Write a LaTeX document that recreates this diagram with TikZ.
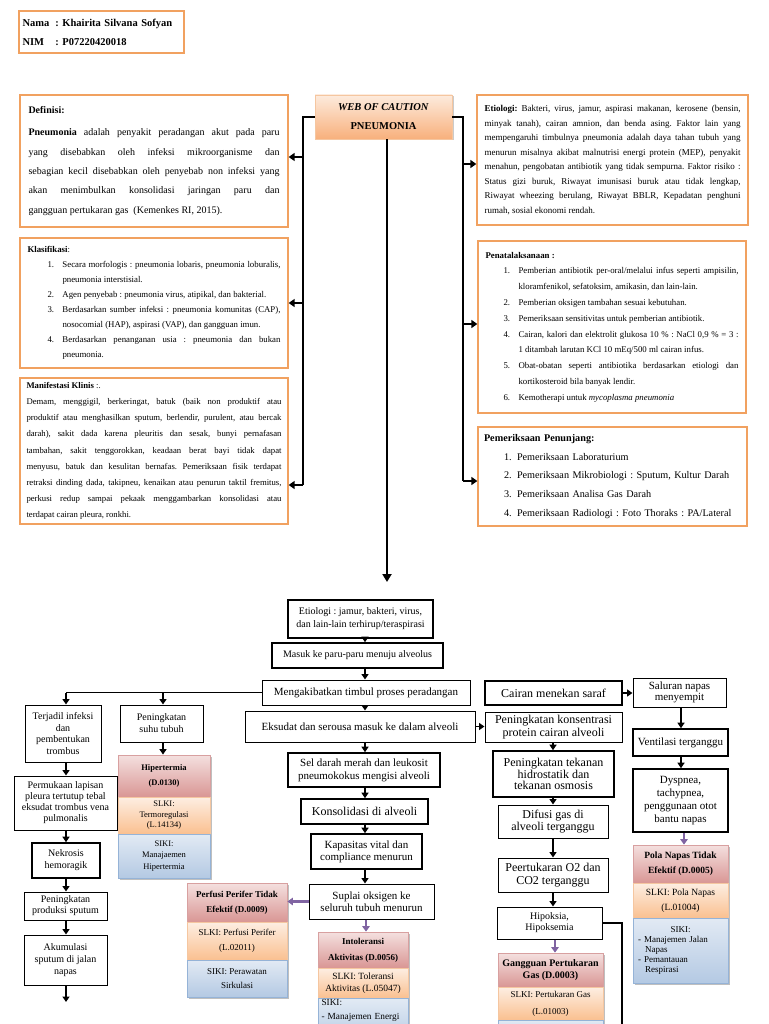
\documentclass[tikz,border=0pt]{standalone}
\usepackage{fontspec}
\setmainfont{Liberation Serif}
\usetikzlibrary{arrows.meta,shadows}
\definecolor{obord}{HTML}{F1A160}
\definecolor{purp}{HTML}{8064A2}
\definecolor{rtop}{HTML}{F4E0DF}
\definecolor{rbot}{HTML}{D99694}
\definecolor{rbd}{HTML}{D8A0A0}
\definecolor{otop}{HTML}{FDEEE2}
\definecolor{obot}{HTML}{FAC090}
\definecolor{obd}{HTML}{F5C6A0}
\definecolor{btop}{HTML}{E2EAF4}
\definecolor{bbot}{HTML}{B4C9E3}
\definecolor{bbd}{HTML}{95B3D7}
\definecolor{wtop}{HTML}{FDEBDD}
\definecolor{wbot}{HTML}{F8B07C}
\newcommand\F[2]{\fontsize{#1}{#2}\selectfont\frenchspacing}
\newcommand\boxat[6][]{\node[#1, minimum width={(#4)-(#2)}, minimum height={(#5)-(#3)}] (#6) at ({((#2)+(#4))/2},{((#3)+(#5))/2})}
\newcommand\li[3]{\par\noindent\hangindent=#2\hangafter=1\makebox[#2][l]{\hspace*{#1}#3}\ignorespaces}
\tikzset{
 topbox/.style={draw=obord, line width=1.3pt, fill=white, inner xsep=1pt, inner ysep=1pt, align=justify},
 fc/.style={draw=black, line width=1pt, fill=white, align=center, inner sep=1pt},
 thk/.style={line width=1.6pt},
 fa/.style={font=\F{10}{12}},
 fb/.style={font=\F{11}{12.5}},
 fcc/.style={font=\F{12}{13}},
 conn/.style={line width=2.4pt},
 tarr/.style={line width=2.2pt, -{Triangle[width=8pt,length=6pt]}},
 arr/.style={line width=1.8pt, -{Triangle[width=7pt,length=5.5pt]}},
 lin/.style={line width=1.8pt},
 parr/.style={line width=2.2pt, draw=purp, -{Triangle[width=7.5pt,length=5.5pt]}},
 shad/.style={drop shadow={shadow xshift=1.5pt,shadow yshift=-1.5pt,fill=black!45,opacity=.55}},
 rsec/.style={shad, draw=rbd, line width=0.8pt, top color=rtop, bottom color=rbot, align=center, inner sep=1pt, font=\bfseries\F{9.5}{15}},
 osec/.style={shad, draw=obd, line width=0.8pt, top color=otop, bottom color=obot, align=center, inner sep=1pt, font=\F{9.5}{15}},
 bsec/.style={shad, draw=bbd, line width=0.8pt, top color=btop, bottom color=bbot, align=center, inner sep=1pt, font=\F{9.5}{14}},
 wocbox/.style={draw=obd, line width=0.8pt, top color=wtop, bottom color=wbot, align=center, inner sep=1pt, font=\bfseries\F{10.5}{19}, drop shadow={shadow xshift=1.5pt,shadow yshift=-1.5pt,fill=black!40,opacity=.5}}
}
\begin{document}
\frenchspacing
\begin{tikzpicture}[x=1pt,y=-1pt]
\fill[white] (0,0) rectangle (768,1024);
\clip (0,0) rectangle (768,1024);
% ---------- header ----------
\boxat[topbox, align=left, text width=158pt, font=\bfseries\F{10.5}{19}]{19}{11}{184}{53}{hdr}{\makebox[33pt][l]{Nama}: Khairita Silvana Sofyan\\\makebox[33pt][l]{NIM}: P07220420018};
% ---------- left column ----------
\boxat[topbox, text width=251pt, font=\F{10}{19.4}]{20}{95}{288}{227}{def}{\textbf{Definisi:}\par\vspace{2.6pt}\textbf{Pneumonia} adalah penyakit peradangan akut pada paru\linebreak yang disebabkan oleh infeksi mikroorganisme dan\linebreak sebagian kecil disebabkan oleh penyebab non infeksi yang\linebreak akan menimbulkan konsolidasi jaringan paru dan\linebreak gangguan pertukaran gas\ \ (Kemenkes RI, 2015).\par};
\boxat[topbox, text width=253pt, font=\F{8.8}{15}]{20}{238}{288}{368}{klas}{\textbf{Klasifikasi}:
\li{20pt}{35pt}{1.}Secara morfologis : pneumonia lobaris, pneumonia loburalis,\linebreak pneumonia interstisial.
\li{20pt}{35pt}{2.}Agen penyebab : pneumonia virus, atipikal, dan bakterial.
\li{20pt}{35pt}{3.}Berdasarkan sumber infeksi : pneumonia komunitas (CAP),\linebreak nosocomial (HAP), aspirasi (VAP), dan gangguan imun.
\li{20pt}{35pt}{4.}Berdasarkan penanganan usia : pneumonia dan bukan\linebreak pneumonia.\par};
\boxat[topbox, text width=255pt, font=\F{8.7}{16.2}]{20}{378}{288}{524}{man}{\textbf{Manifestasi Klinis} :.\par Demam, menggigil, berkeringat, batuk (baik non produktif atau\linebreak produktif atau menghasilkan sputum, berlendir, purulent, atau bercak\linebreak darah), sakit dada karena pleuritis dan sesak, bunyi pernafasan\linebreak tambahan, sakit tenggorokkan, keadaan berat bayi tidak dapat\linebreak menyusu, batuk dan kesulitan bernafas. Pemeriksaan fisik terdapat\linebreak retraksi dinding dada, takipneu, kenaikan atau penurun taktil fremitus,\linebreak perkusi redup sampai pekaak menggambarkan konsolidasi atau\linebreak terdapat cairan pleura, ronkhi.\par};
% ---------- center ----------
\boxat[wocbox]{315}{95}{452}{139}{woc}{\textit{WEB OF CAUTION}\\PNEUMONIA};
% ---------- right column ----------
\boxat[topbox, text width=256pt, font=\F{9}{14.5}]{477}{95}{748}{225}{etiol}{\textbf{Etiologi:} Bakteri, virus, jamur, aspirasi makanan, kerosene (bensin,\linebreak minyak tanah), cairan amnion, dan benda asing. Faktor lain yang\linebreak mempengaruhi timbulnya pneumonia adalah daya tahan tubuh yang\linebreak menurun misalnya akibat malnutrisi energi protein (MEP), penyakit\linebreak menahun, pengobatan antibiotik yang tidak sempurna. Faktor risiko :\linebreak Status gizi buruk, Riwayat imunisasi buruk atau tidak lengkap,\linebreak Riwayat wheezing berulang, Riwayat BBLR, Kepadatan penghuni\linebreak rumah, sosial ekonomi rendah.\par};
\boxat[topbox, text width=253pt, font=\F{8.8}{15.8}]{478}{241}{746}{413}{pen}{\textbf{Penatalaksanaan :}
\li{18pt}{33pt}{1.}Pemberian antibiotik per-oral/melalui infus seperti ampisilin,\linebreak kloramfenikol, sefatoksim, amikasin, dan lain-lain.
\li{18pt}{33pt}{2.}Pemberian oksigen tambahan sesuai kebutuhan.
\li{18pt}{33pt}{3.}Pemeriksaan sensitivitas untuk pemberian antibiotik.
\li{18pt}{33pt}{4.}Cairan, kalori dan elektrolit glukosa 10 \% : NaCl 0,9 \% = 3 :\linebreak 1 ditambah larutan KCl 10 mEq/500 ml cairan infus.
\li{18pt}{33pt}{5.}Obat-obatan seperti antibiotika berdasarkan etiologi dan\linebreak kortikosteroid bila banyak lendir.
\li{18pt}{33pt}{6.}Kemotherapi untuk \textit{mycoplasma pneumonia}\par};
\boxat[topbox, align=left, text width=257pt, font=\F{10.2}{18.7}]{478}{427}{747}{526}{pem}{\textbf{Pemeriksaan Penunjang:}
\li{20pt}{33pt}{1.}Pemeriksaan Laboraturium
\li{20pt}{33pt}{2.}Pemeriksaan Mikrobiologi : Sputum, Kultur Darah
\li{20pt}{33pt}{3.}Pemeriksaan Analisa Gas Darah
\li{20pt}{33pt}{4.}Pemeriksaan Radiologi : Foto Thoraks : PA/Lateral\par};
% ---------- top connectors ----------
\coordinate (l1) at (303,157);
\coordinate (l2) at (303,303);
\coordinate (l3) at (303,485);
\coordinate (r1) at (463,164);
\coordinate (r2) at (463,324);
\coordinate (r3) at (463,481);
\coordinate (cend) at (387,582);
\draw[conn] (woc.west) -| (l3);
\draw[conn] (woc.east) -| (r3);
\draw[tarr] (l1) -- (l1 -| def.east);
\draw[tarr] (l2) -- (l2 -| klas.east);
\draw[tarr] (l3) -- (l3 -| man.east);
\draw[tarr] (r1) -- (r1 -| etiol.west);
\draw[tarr] (r2) -- (r2 -| pen.west);
\draw[tarr] (r3) -- (r3 -| pem.west);
\draw[line width=2.8pt, -{Triangle[width=9pt,length=8pt]}] (woc.south -| cend) -- (cend);
% ---------- flowchart center ----------
\boxat[fc,thk,fa,font=\F{10}{13}]{288}{600}{433}{638}{etio2}{Etiologi : jamur, bakteri, virus,\\dan lain-lain terhirup/teraspirasi};
\boxat[fc,thk,fa]{272}{643}{443}{668}{masuk}{Masuk ke paru-paru menuju alveolus};
\boxat[fc,fb]{262}{680}{470}{705}{meng}{Mengakibatkan timbul proses peradangan};
\boxat[fc,fb]{245}{711}{475}{742}{eks}{Eksudat dan serousa masuk ke dalam alveoli};
\boxat[fc,thk,fb,font=\F{11}{13}]{288}{753}{440}{787}{sel}{Sel darah merah dan leukosit\\pneumokokus mengisi alveoli};
\boxat[fc,thk,fcc]{301}{799}{428}{824}{kons}{Konsolidasi di alveoli};
\boxat[fc,thk,fb,font=\F{11}{12}]{311}{834}{422}{869}{kap}{Kapasitas vital dan\\compliance menurun};
\boxat[fc,fb,font=\F{11}{12}]{309}{884}{434}{919}{sup}{Suplai oksigen ke\\seluruh tubuh menurun};
% ---------- flowchart left ----------
\boxat[fc,fa,font=\F{10}{11.7}]{25}{705}{101}{762}{terj}{Terjadil infeksi\\dan\\pembentukan\\trombus};
\boxat[fc,fa]{120}{705}{203}{742}{suhu}{Peningkatan\\suhu tubuh};
\boxat[fc,fa,font=\F{10}{11}]{14}{776}{117}{830}{perm}{Permukaan lapisan\\pleura tertutup tebal\\eksudat trombus vena\\pulmonalis};
\boxat[fc,thk,fa]{32}{843}{100}{878}{nek}{Nekrosis\\hemoragik};
\boxat[fc,fa,font=\F{10}{11}]{24}{892}{107}{920}{prod}{Peningkatan\\produksi sputum};
\boxat[fc,fa]{24}{935}{107}{985}{akum}{Akumulasi\\sputum di jalan\\napas};
% ---------- flowchart right-middle ----------
\boxat[fc,thk,fcc]{485}{681}{622}{705}{cair}{Cairan menekan saraf};
\boxat[fc,fcc]{485}{712}{622}{742}{konsen}{Peningkatan konsentrasi\\protein cairan alveoli};
\boxat[fc,thk,fcc,font=\F{12}{11.5}]{493}{751}{614}{797}{tek}{Peningkatan tekanan\\hidrostatik dan\\tekanan osmosis};
\boxat[fc,fcc,font=\F{12}{12}]{498}{805}{608}{838}{dif}{Difusi gas di\\alveoli terganggu};
\boxat[fc,fcc]{498}{858}{608}{892}{pert}{Peertukaran O2 dan\\CO2 terganggu};
\boxat[fc,fa,font=\F{10}{11}]{497}{907}{602}{939}{hip}{Hipoksia,\\Hipoksemia};
% ---------- flowchart far right ----------
\boxat[fc,fb,font=\F{11}{11.5}]{633}{678}{726}{707}{sal}{Saluran napas\\menyempit};
\boxat[fc,thk,fb]{633}{729}{728}{756}{vent}{Ventilasi terganggu};
\boxat[fc,thk,fb,font=\F{11}{13}]{633}{769}{728}{832}{dys}{Dyspnea,\\tachypnea,\\penggunaan otot\\bantu napas};
% ---------- stacked diagnosis boxes ----------
\boxat[rsec,font=\bfseries\F{8.5}{15}]{118}{755}{210}{797}{hipA}{Hipertermia\\(D.0130)};
\boxat[osec,font=\F{8.5}{10.5}]{118}{797}{210}{834}{hipB}{SLKI:\\Termoregulasi\\(L.14134)};
\boxat[bsec,font=\F{8.5}{11.5}]{118}{834}{210}{878}{hipC}{SIKI:\\Manajaemen\\Hipertermia};
\boxat[rsec,font=\bfseries\F{9}{15}]{187}{883}{287}{922}{perA}{Perfusi Perifer Tidak\\Efektif (D.0009)};
\boxat[osec,font=\F{9}{15}]{187}{922}{287}{960}{perB}{SLKI: Perfusi Perifer\\(L.02011)};
\boxat[bsec,font=\F{9}{14}]{187}{960}{287}{997}{perC}{SIKI: Perawatan\\Sirkulasi};
\boxat[rsec,font=\bfseries\F{9}{16}]{318}{932}{408}{968}{intA}{Intoleransi\\Aktivitas (D.0056)};
\boxat[osec,font=\F{9.5}{12}]{318}{968}{408}{998}{intB}{SLKI: Toleransi\\Aktivitas (L.05047)};
\node[bsec, anchor=north, minimum width=90pt, text width=83pt, align=left, font=\F{9.3}{14}] (intC) at (363,998) {SIKI:\\- Manajemen Energi\rule[-24pt]{0pt}{0pt}};
\boxat[rsec,font=\bfseries\F{10}{12}]{498}{953}{603}{987}{ganA}{Gangguan Pertukaran\\Gas (D.0003)};
\boxat[osec,font=\F{9}{17}]{498}{987}{603}{1020}{ganB}{SLKI: Pertukaran Gas\\(L.01003)};
\boxat[bsec]{498}{1020}{603}{1045}{ganC}{};
\boxat[rsec,font=\bfseries\F{9.5}{15}]{633}{845}{728}{883}{polA}{Pola Napas Tidak\\Efektif (D.0005)};
\boxat[osec,font=\F{9.5}{15}]{633}{883}{728}{918}{polB}{SLKI: Pola Napas\\(L.01004)};
\boxat[bsec,align=left,text width=85pt,font=\F{9}{10}]{633}{918}{728}{983}{polC}{{\centering SIKI:\par}- Manajemen Jalan\par\hspace*{7pt}Napas\par- Pemantauan\par\hspace*{7pt}Respirasi\par};
% ---------- flowchart connectors ----------
\coordinate (cx) at (365,0);
\coordinate (lx) at (66,0);
\coordinate (hx) at (163,0);
\coordinate (mx) at (553,0);
\coordinate (rx) at (681,0);
\coordinate (px) at (366,0);
\coordinate (pmx) at (555,0);
\coordinate (prx) at (684,0);
\draw[arr] (etio2.south -| cx) -- (masuk.north -| cx);
\draw[arr] (masuk.south -| cx) -- (meng.north -| cx);
\draw[arr] (meng.south -| cx) -- (eks.north -| cx);
\draw[arr] (eks.south -| cx) -- (sel.north -| cx);
\draw[arr] (sel.south -| cx) -- (kons.north -| cx);
\draw[arr] (kons.south -| cx) -- (kap.north -| cx);
\draw[arr] (kap.south -| cx) -- (sup.north -| cx);
\draw[parr] (sup.west) -- (sup.west -| perA.east);
\draw[parr] (sup.south -| px) -- (intA.north -| px);
\coordinate (jl) at (meng.west -| lx);
\draw[lin] (meng.west) -- (jl);
\draw[arr] (jl) -- (terj.north -| lx);
\draw[arr] (meng.west -| hx) -- (suhu.north -| hx);
\draw[arr] (terj.south -| lx) -- (perm.north -| lx);
\draw[arr] (perm.south -| lx) -- (nek.north -| lx);
\draw[arr] (nek.south -| lx) -- (prod.north -| lx);
\draw[arr] (prod.south -| lx) -- (akum.north -| lx);
\coordinate (akend) at (66,1002);
\draw[arr] (akum.south -| lx) -- (akend);
\draw[arr] (suhu.south -| hx) -- (hipA.north -| hx);
\draw[arr] (eks.east) -- (eks.east -| konsen.west);
\draw[arr] (cair.east) -- (cair.east -| sal.west);
\draw[arr] (konsen.south -| mx) -- (tek.north -| mx);
\draw[arr] (tek.south -| mx) -- (dif.north -| mx);
\draw[arr] (dif.south -| mx) -- (pert.north -| mx);
\draw[arr] (pert.south -| mx) -- (hip.north -| mx);
\draw[parr] (hip.south -| pmx) -- (ganA.north -| pmx);
\coordinate (hb) at (622,1030);
\draw[lin] (hip.east) -| (hb);
\draw[arr] (sal.south -| rx) -- (vent.north -| rx);
\draw[arr] (vent.south -| rx) -- (dys.north -| rx);
\draw[parr] (dys.south -| prx) -- (polA.north -| prx);
\end{tikzpicture}
\end{document}
